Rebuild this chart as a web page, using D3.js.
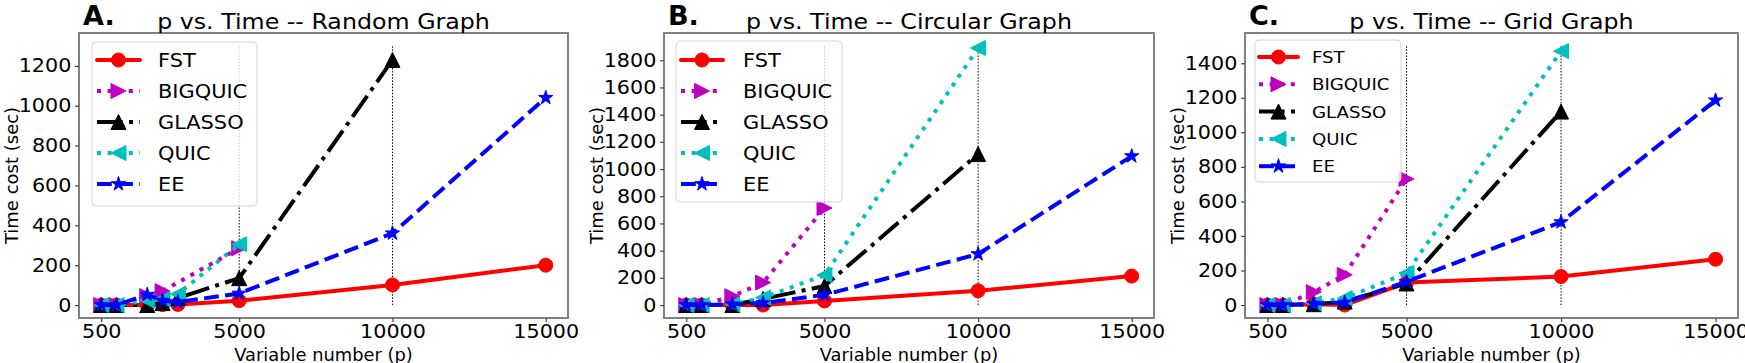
<!DOCTYPE html>
<html>
<head>
<meta charset="utf-8">
<script src="https://cdn.jsdelivr.net/npm/d3@7"></script>
<style>
  body { margin: 0; background: #fff; }
  svg text { font-family: "DejaVu Sans", sans-serif; fill: #000; }
</style>
</head>
<body>
<div id="chart"></div>
<script>
// ---- data ----
var methods = ['FST', 'BIGQUIC', 'GLASSO', 'QUIC', 'EE'];
var xTicks = [500, 5000, 10000, 15000];
var vlineX = [5000, 10000];

// A. Random graph
var pA = [500, 1000, 2000, 2500, 3000, 5000, 10000, 15000];
var fstA = [0, 0, 0, 2, 3, 22, 101, 200];
var bigquicA = [0, 0, 45, 70, null, 285, null, null];
var glassoA = [0, 0, 0, 10, 35, 135, 1230, null];
var quicA = [0, 0, 22, 30, 55, 305, null, null];
var eeA = [0, 0, 52, 22, 15, 58, 360, 1040];
var yTicksA = [0, 200, 400, 600, 800, 1000, 1200];
var vlineTopA = 1300;

// B. Circular graph
var pB = [500, 1000, 2000, 3000, 5000, 10000, 15000];
var fstB = [0, 0, 0, 0, 30, 105, 213];
var bigquicB = [0, 0, 65, 165, 713, null, null];
var glassoB = [0, 0, 0, 45, 140, 1110, null];
var quicB = [0, 0, 5, 55, 220, 1890, null];
var eeB = [0, 0, 5, 15, 75, 375, 1095];
var yTicksB = [0, 200, 400, 600, 800, 1000, 1200, 1400, 1600, 1800];
var vlineTopB = 1905;

// C. Grid graph
var pC = [500, 1000, 2000, 3000, 5000, 10000, 15000];
var fstC = [0, 0, 5, 0, 130, 165, 265];
var bigquicC = [0, 0, 75, 175, 730, null, null];
var glassoC = [0, 0, 5, 20, 125, 1120, null];
var quicC = [0, 0, 10, 40, 185, 1470, null];
var eeC = [0, 0, 8, 15, 135, 480, 1185];
var yTicksC = [0, 200, 400, 600, 800, 1000, 1200, 1400];
var vlineTopC = 1500;

// ---- layout ----
var width = 1745, height = 363;
var top0 = 33, bottom0 = 318;
var ms = 15;

var styles = [
  { color: '#ff0000', dash: null, marker: 'o' },
  { color: '#bf00bf', dash: '4,6.6', marker: '>' },
  { color: '#000000', dash: '25.6,6.4,4,6.4', marker: '^' },
  { color: '#00bfbf', dash: '4,6.6', marker: '<' },
  { color: '#0000ff', dash: '14.8,6.4', marker: '*' }
];

var panels = [
  { letter: 'A.', title: 'p vs. Time -- Random Graph', x0: 79, x1: 568,
    xs: pA, series: [fstA, bigquicA, glassoA, quicA, eeA], yTicks: yTicksA, top: vlineTopA,
    leg: { x: 92, y: 42, w: 165, h: 164, font: 19, row0: 60, step: 31, h0: 5, h1: 48, tx: 66 } },
  { letter: 'B.', title: 'p vs. Time -- Circular Graph', x0: 664, x1: 1154,
    xs: pB, series: [fstB, bigquicB, glassoB, quicB, eeB], yTicks: yTicksB, top: vlineTopB,
    leg: { x: 676, y: 41, w: 166, h: 161, font: 19, row0: 60, step: 31, h0: 5, h1: 47, tx: 67 } },
  { letter: 'C.', title: 'p vs. Time -- Grid Graph', x0: 1245, x1: 1738,
    xs: pC, series: [fstC, bigquicC, glassoC, quicC, eeC], yTicks: yTicksC, top: vlineTopC,
    leg: { x: 1255, y: 40, w: 146, h: 142, font: 16.5, row0: 57, step: 27.3, h0: 4, h1: 43, tx: 57 } }
];

var svg = d3.select('#chart')
  .append('svg')
  .attr('width', width)
  .attr('height', height);

function markerPath(type, size) {
  var h = size / 2;
  if (type === 'o') {
    var r = h - 0.5;
    return 'M' + r + ',0A' + r + ',' + r + ' 0 1,1 ' + (-r) + ',0A' + r + ',' + r + ' 0 1,1 ' + r + ',0Z';
  }
  if (type === '^') return 'M0,' + (-h) + 'L' + (-h) + ',' + h + 'L' + h + ',' + h + 'Z';
  if (type === '>') return 'M' + h + ',0L' + (-h) + ',' + (-h) + 'L' + (-h) + ',' + h + 'Z';
  if (type === '<') return 'M' + (-h) + ',0L' + h + ',' + (-h) + 'L' + h + ',' + h + 'Z';
  // 5 point star, matplotlib inner ratio
  var pts = [];
  for (var i = 0; i < 10; i++) {
    var a = Math.PI / 2 + i * Math.PI / 5;
    var rr = (i % 2 === 0 ? 1 : 0.381966) * h;
    pts.push([rr * Math.cos(a), -rr * Math.sin(a)]);
  }
  return 'M' + pts.map(function (p) { return p[0].toFixed(2) + ',' + p[1].toFixed(2); }).join('L') + 'Z';
}

function label(g, x, y, str, size, k, anchor, weight) {
  return g.append('text')
    .attr('transform', 'translate(' + x + ',' + y + ') scale(' + k + ',1)')
    .attr('text-anchor', anchor)
    .style('font-size', size + 'px')
    .style('font-weight', weight || 'normal')
    .text(str);
}

function styleLine(sel, st) {
  sel.attr('fill', 'none')
    .attr('stroke', st.color)
    .attr('stroke-width', 4)
    .attr('stroke-linejoin', 'round')
    .attr('stroke-linecap', st.dash ? 'butt' : 'round')
    .attr('stroke-dasharray', st.dash);
}

panels.forEach(function (p) {
  var x = d3.scaleLinear().domain([500 - 0.05 * 14500, 15000 + 0.05 * 14500]).range([p.x0, p.x1]);
  var y = d3.scaleLinear().domain([-0.05 * p.top, 1.05 * p.top]).range([bottom0, top0]);
  var g = svg.append('g');

  // dotted reference lines
  vlineX.forEach(function (v) {
    g.append('line')
      .attr('x1', x(v)).attr('x2', x(v))
      .attr('y1', y(0)).attr('y2', y(p.top))
      .attr('stroke', '#000')
      .attr('stroke-width', 1)
      .attr('stroke-dasharray', '1.5,1.6');
  });

  // series: line then markers, in plot order
  methods.forEach(function (m, i) {
    var st = styles[i];
    var pts = p.xs.map(function (xv, j) { return { x: xv, y: p.series[i][j] }; })
      .filter(function (d) { return d.y !== null; });

    g.append('path')
      .datum(pts)
      .attr('d', d3.line().x(d => x(d.x)).y(d => y(d.y)))
      .call(styleLine, st);

    g.selectAll(null)
      .data(pts)
      .join('path')
      .attr('transform', d => 'translate(' + x(d.x) + ',' + y(d.y) + ')')
      .attr('d', markerPath(st.marker, ms))
      .attr('fill', st.color)
      .attr('stroke', st.color)
      .attr('stroke-width', 1);
  });

  // frame
  g.append('rect')
    .attr('x', p.x0).attr('y', top0)
    .attr('width', p.x1 - p.x0).attr('height', bottom0 - top0)
    .attr('fill', 'none')
    .attr('stroke', '#808080')
    .attr('stroke-width', 2);

  // axes
  var ya = g.append('g')
    .attr('transform', 'translate(' + p.x0 + ',0)')
    .call(d3.axisLeft(y).tickValues(p.yTicks).tickSize(4).tickPadding(3).tickFormat(d3.format('d')));
  var xa = g.append('g')
    .attr('transform', 'translate(0,' + bottom0 + ')')
    .call(d3.axisBottom(x).tickValues(xTicks).tickSize(4).tickPadding(3).tickFormat(d3.format('d')));
  [ya, xa].forEach(function (ax) {
    ax.attr('font-size', null).attr('font-family', null);
    ax.select('.domain').remove();
    ax.selectAll('line').attr('stroke', '#444').attr('stroke-width', 1.2);
    ax.selectAll('text')
      .style('font-size', '19px')
      .attr('transform', 'scale(1.09,1)');
  });

  // axis labels
  g.append('text')
    .attr('transform', 'translate(' + (p.x0 - 61) + ',' + ((top0 + bottom0) / 2) + ') rotate(-90)')
    .attr('text-anchor', 'middle')
    .style('font-size', '18px')
    .text('Time cost (sec)');
  label(g, (p.x0 + p.x1) / 2, 361, 'Variable number (p)', 17, 1.05, 'middle');

  // legend
  var L = p.leg;
  var lg = g.append('g');
  lg.append('rect')
    .attr('x', L.x).attr('y', L.y)
    .attr('width', L.w).attr('height', L.h)
    .attr('rx', 4)
    .attr('fill', '#fff')
    .attr('fill-opacity', 0.8)
    .attr('stroke', '#d6d6d6')
    .attr('stroke-width', 1);
  methods.forEach(function (m, i) {
    var st = styles[i];
    var cy = L.row0 + i * L.step;
    lg.append('line')
      .attr('x1', L.x + L.h0).attr('x2', L.x + L.h1)
      .attr('y1', cy).attr('y2', cy)
      .call(styleLine, st);
    lg.append('path')
      .attr('transform', 'translate(' + (L.x + (L.h0 + L.h1) / 2) + ',' + cy + ')')
      .attr('d', markerPath(st.marker, ms))
      .attr('fill', st.color)
      .attr('stroke', st.color)
      .attr('stroke-width', 1);
    label(lg, L.x + L.tx, cy + L.font * 0.36, m, L.font, 1.1, 'start');
  });

  // title and panel letter
  label(g, (p.x0 + p.x1) / 2, 28.5, p.title, 21, 1.13, 'middle');
  label(g, p.x0 + 4, 25, p.letter, 27, 1, 'start', 'bold');
});
</script>
</body>
</html>
